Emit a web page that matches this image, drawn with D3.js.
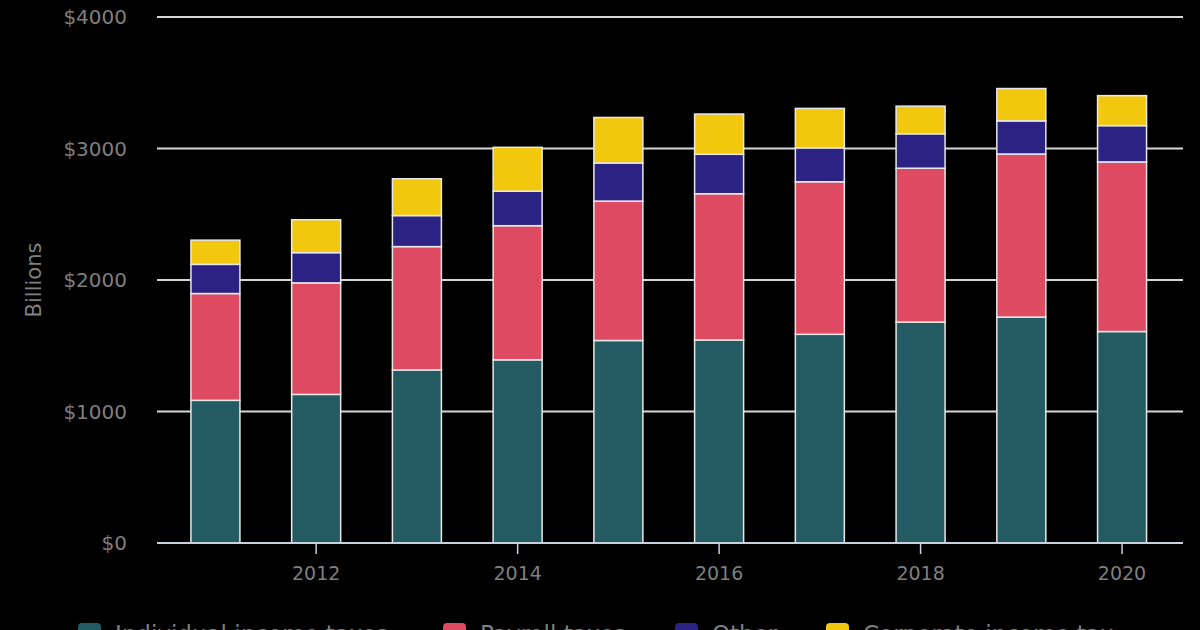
<!DOCTYPE html>
<html>
<head>
<meta charset="utf-8">
<script src="https://cdn.jsdelivr.net/npm/d3@7"></script>
<style>
  html, body { margin: 0; padding: 0; background: #000; }
  svg { display: block; }
</style>
</head>
<body>
<div id="chart"></div>
<script>
// data (billions of dollars)
var years = [2011, 2012, 2013, 2014, 2015, 2016, 2017, 2018, 2019, 2020];
var individual = [1085, 1130, 1316, 1393, 1540, 1544, 1587, 1680, 1718, 1608];
var payroll = [812, 848, 938, 1020, 1060, 1112, 1160, 1170, 1240, 1290];
var other = [222, 230, 236, 262, 290, 300, 258, 262, 252, 276];
var corporate = [184, 250, 280, 334, 346, 306, 300, 210, 246, 228];

var seriesNames = ["Individual income taxes", "Payroll taxes", "Other", "Corporate income tax"];
var seriesValues = [individual, payroll, other, corporate];
var colors = ["#245b62", "#dd4a61", "#2b2284", "#f2c80f"];
var yTicks = [0, 1000, 2000, 3000, 4000];
var xTicks = [2012, 2014, 2016, 2018, 2020];

var width = 1200, height = 630;

var svg = d3.select("#chart")
    .append("svg")
    .attr("width", width)
    .attr("height", height)
    .style("background", "#000");

var x = d3.scaleLinear()
    .domain([2010.42, 2020.605])
    .range([157, 1183]);

var y = d3.scaleLinear()
    .domain([0, 4000])
    .range([543, 17]);

var barW = 49;

// grid lines
svg.append("g")
    .selectAll("line")
    .data(yTicks.filter(d => d > 0))
    .join("line")
    .attr("x1", x.range()[0])
    .attr("x2", x.range()[1])
    .attr("y1", d => y(d))
    .attr("y2", d => y(d))
    .attr("stroke", "#d6d6d6")
    .attr("stroke-width", 2);

// y labels
svg.append("g")
    .selectAll("text")
    .data(yTicks)
    .join("text")
    .attr("x", 127)
    .attr("y", d => y(d) + 7)
    .attr("text-anchor", "end")
    .attr("fill", "#7f7f7f")
    .style("font", "20px 'DejaVu Sans', sans-serif")
    .text(d => "$" + d);

svg.append("text")
    .attr("transform", "translate(41,280) rotate(-90)")
    .attr("text-anchor", "middle")
    .attr("fill", "#7f7f7f")
    .style("font", "21px 'DejaVu Sans', sans-serif")
    .text("Billions");

// stack the series
var rows = years.map(function(yr, i) {
    var r = { year: yr };
    seriesNames.forEach(function(n, j) { r[n] = seriesValues[j][i]; });
    return r;
});
var stacked = d3.stack().keys(seriesNames)(rows);

svg.append("g")
    .selectAll("g")
    .data(stacked)
    .join("g")
    .attr("fill", (d, i) => colors[i])
    .selectAll("rect")
    .data(d => d)
    .join("rect")
    .attr("x", d => x(d.data.year) - barW / 2)
    .attr("width", barW)
    .attr("y", d => y(d[1]))
    .attr("height", d => y(d[0]) - y(d[1]))
    .attr("stroke", "#e8e8e8")
    .attr("stroke-width", 1.5);

// x axis
var xAxis = svg.append("g");
xAxis.append("line")
    .attr("x1", x.range()[0])
    .attr("x2", x.range()[1])
    .attr("y1", y(0))
    .attr("y2", y(0))
    .attr("stroke", "#c8d0e0")
    .attr("stroke-width", 2);

xAxis.selectAll(".tick")
    .data(xTicks)
    .join("line")
    .attr("class", "tick")
    .attr("x1", d => x(d))
    .attr("x2", d => x(d))
    .attr("y1", y(0))
    .attr("y2", y(0) + 11)
    .attr("stroke", "#c8d0e0")
    .attr("stroke-width", 1.5);

xAxis.selectAll(".lbl")
    .data(xTicks)
    .join("text")
    .attr("class", "lbl")
    .attr("x", d => x(d))
    .attr("y", 580)
    .attr("text-anchor", "middle")
    .attr("fill", "#7f7f7f")
    .style("font", "19px 'DejaVu Sans', sans-serif")
    .text(d => d);

// legend (cut by the bottom edge, as in the original)
var legendX = [78, 443, 675, 826];
var legend = svg.append("g")
    .selectAll("g")
    .data(seriesNames)
    .join("g")
    .attr("transform", (d, i) => `translate(${legendX[i]},623)`);

legend.append("rect")
    .attr("width", 23)
    .attr("height", 23)
    .attr("rx", 4)
    .attr("fill", (d, i) => colors[i]);

legend.append("text")
    .attr("x", 37)
    .attr("y", 19)
    .attr("fill", "#7f7f7f")
    .style("font", "23px 'DejaVu Sans', sans-serif")
    .text(d => d);
</script>
</body>
</html>
